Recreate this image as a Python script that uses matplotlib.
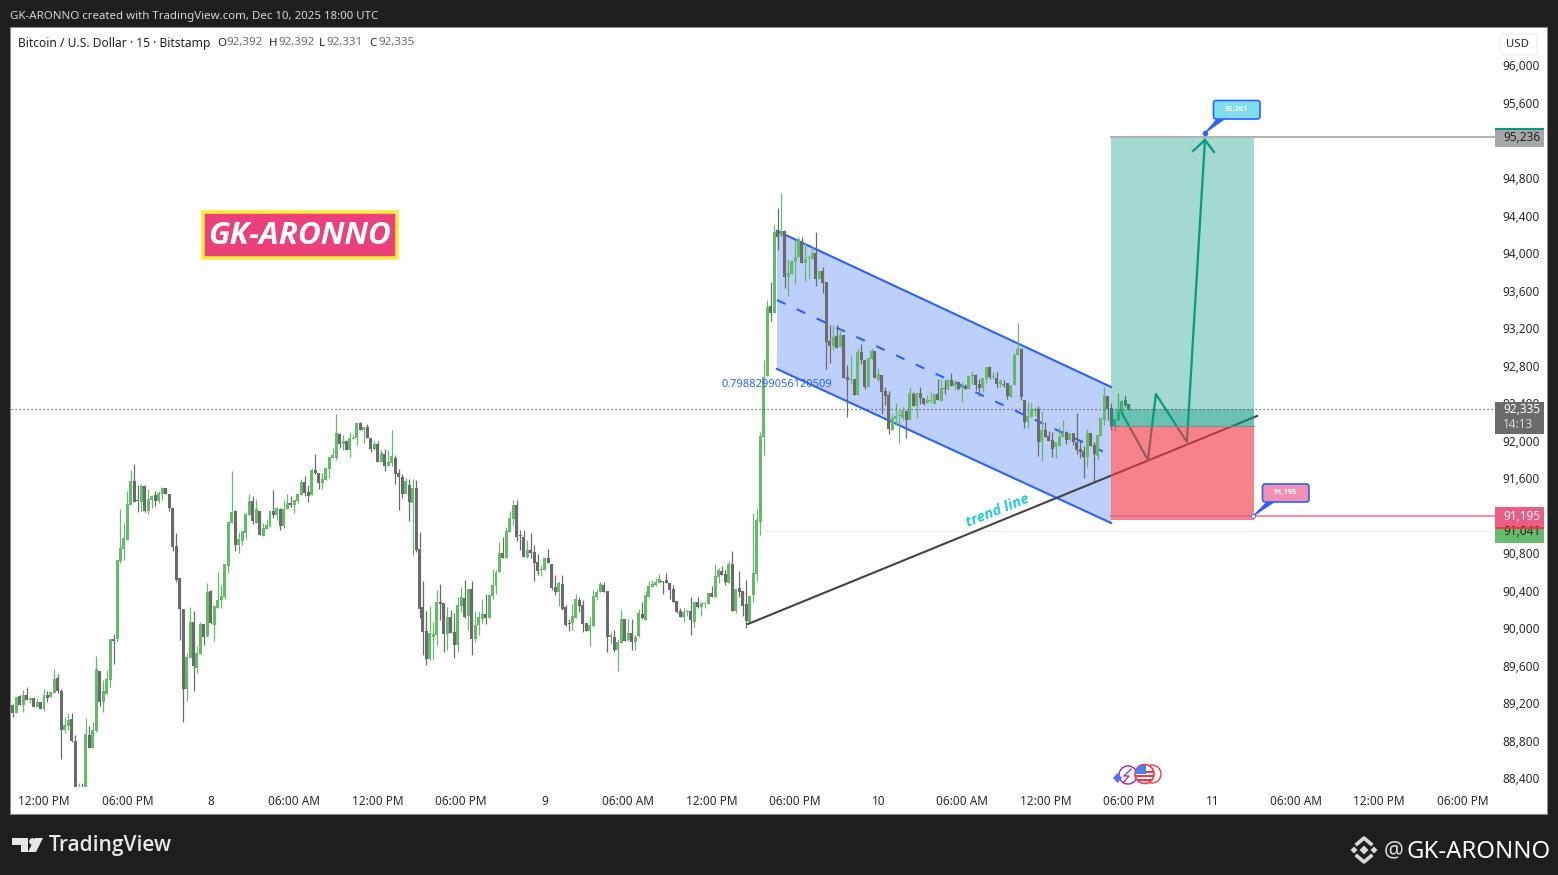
import numpy as np
import matplotlib
matplotlib.use('Agg')
import matplotlib.pyplot as plt
from matplotlib.patches import Rectangle, Circle, Polygon, FancyBboxPatch

plt.rcParams['font.family'] = ['Noto Sans', 'DejaVu Sans']

# 15 minute bars, index 0 = Dec 7 12:00 PM
bar_index = np.arange(-9, 313)

opens = [
    89184,89102,89280,89184,89291,89241,89255,89166,89212,89145,
    89291,89273,89315,89468,89333,88918,88960,89031,88800,88100,
    88180,88050,88864,88726,88907,89546,89216,89301,89450,89887,
    89887,90719,90847,90943,91316,91572,91369,91348,91518,91252,
    91369,91419,91358,91433,91493,91433,91284,90879,90534,90207,
    89355,89685,90069,89578,89728,90047,89919,90399,90037,90218,
    90303,90335,90666,91124,91252,90889,90932,91017,91209,91358,
    91124,91252,90985,91060,91092,91252,91209,91273,91092,91273,
    91337,91316,91358,91422,91561,91454,91422,91689,91657,91550,
    91582,91700,91817,91817,92073,91966,91998,91902,92019,92030,
    92190,92115,92147,92030,91913,91966,91774,91859,91732,91763,
    91817,91657,
    91614,91433,91529,91337,91497,90847,90228,89972,89674,89909,
    89930,90282,90271,89941,90122,89962,89823,90239,90324,90132,
    90420,89887,90036,90100,90154,90111,90346,90452,90601,90804,
    90751,91028,91166,91316,90996,90974,90761,90836,90815,90708,
    90623,90623,90751,90687,90441,90388,90473,90228,90058,90058,
    90111,90303,90250,90058,89972,90026,90335,90388,90463,90399,
    89909,89909,89770,89845,90100,89877,89951,89855,89919,90154,
    90090,90335,90441,90463,90484,90505,90516,90484,90420,90292,
    90186,90122,90175,90186,90068,90282,90228,90260,90260,90378,
    90335,90548,90612,90580,90484,90687,90186,90431,90399,90260,
    90068,90356,90580,91134,
    92044,92691,93437,93366,94229,94183,94236,93750,93778,93917,
    93956,94130,93899,93949,93938,93998,93725,93810,93693,93064,
    93011,93117,93000,93128,92680,92648,92659,92488,92947,92861,
    92574,92872,92957,92648,92701,92531,92488,92115,92232,92264,
    92243,92318,92222,92499,92371,92510,92456,92403,92424,92392,
    92499,92424,92563,92552,92648,92584,92627,92563,92584,92552,
    92691,92701,92606,92563,92659,92787,92680,92670,92606,92606,
    92613,92467,92595,92915,92979,92435,92201,92254,92318,92339,
    91987,92115,92051,92009,91934,91945,92041,92094,92009,92083,
    91987,91913,91891,91827,92083,91955,91838,92051,92222,92478,
    92350,92147,92222,92307,92435,92392,
]
highs = [
    89195,89273,89291,89344,89376,89273,89273,89255,89220,89355,
    89333,89319,89564,89511,89351,89060,89095,89095,88864,88349,
    88356,89042,88960,89006,89706,89546,89450,89557,89887,89937,
    90730,91273,91120,91465,91689,91753,91529,91540,91529,91486,
    91422,91465,91465,91508,91493,91433,91284,91014,90534,90207,
    89735,90229,90186,89813,90069,90047,90484,90410,90239,90602,
    90463,90687,91135,91678,91263,91028,91039,91231,91433,91412,
    91376,91252,91124,91163,91252,91476,91294,91284,91369,91433,
    91412,91369,91444,91593,91625,91529,91710,91859,91657,91657,
    91710,91827,91923,92286,92083,92062,92009,92094,92062,92190,
    92201,92147,92179,92030,91998,91998,91902,91913,91902,92115,
    91849,91700,
    91650,91600,91590,91590,91582,91028,90505,90186,90239,90068,
    90410,90473,90271,90228,90196,90164,90335,90441,90516,90420,
    90505,90186,90186,90314,90367,90356,90633,90623,90921,90974,
    91081,91252,91369,91369,91049,91049,90942,91017,90889,90793,
    90676,90761,90847,90687,90569,90505,90569,90250,90100,90260,
    90367,90335,90303,90058,90122,90410,90420,90495,90495,90399,
    89962,89983,89887,90196,90100,90100,90100,89930,90207,90282,
    90399,90505,90516,90537,90580,90505,90591,90484,90463,90292,
    90218,90218,90196,90335,90282,90335,90282,90282,90378,90452,
    90687,90644,90665,90623,90719,90825,90420,90612,90399,90516,
    90346,91230,91284,92097,
    92861,93501,93693,94300,94482,94638,94247,93938,93927,94140,
    94176,94176,94105,93981,94076,94226,93810,93849,93693,93234,
    93234,93234,93192,93128,92808,92915,92659,92989,93032,92861,
    92883,92989,92957,92776,92701,92574,92531,92286,92403,92328,
    92360,92328,92574,92520,92520,92574,92456,92488,92520,92499,
    92659,92659,92648,92659,92723,92648,92638,92627,92606,92691,
    92744,92712,92659,92670,92787,92797,92733,92733,92659,92648,
    92613,92595,92936,93256,92989,92435,92414,92399,92360,92371,
    92318,92201,92105,92094,91987,92147,92222,92105,92083,92083,
    92296,92009,91945,92126,92083,91987,92062,92254,92574,92478,
    92403,92232,92510,92435,92488,92392,
]
lows = [
    89060,89102,89184,89113,89241,89202,89166,89166,89145,89124,
    89220,89273,89315,89308,88612,88882,88918,88793,88050,87980,
    87950,87990,88726,88726,88896,89173,89109,89301,89379,89621,
    89856,90701,90730,90943,91316,91348,91241,91252,91241,91220,
    91284,91305,91341,91369,91433,91252,90825,90495,89877,89003,
    89227,89685,89333,89525,89728,89824,89909,90047,89866,90218,
    90218,90314,90591,91124,90825,90804,90889,90953,91209,91113,
    91124,90996,90985,91060,91085,91177,91156,91049,91071,91273,
    91298,91231,91337,91422,91412,91348,91422,91646,91486,91486,
    91582,91604,91817,91795,91923,91902,91902,91827,92019,91955,
    92115,91977,92030,91877,91902,91774,91774,91678,91732,91732,
    91540,91263,
    91390,91433,91145,90783,90815,90111,89717,89610,89663,89674,
    89823,90090,89749,89770,89951,89685,89749,90175,90111,89983,
    89717,89855,89930,90058,90047,90111,90314,90367,90601,90751,
    90751,91028,91102,90932,90836,90761,90751,90751,90505,90569,
    90559,90623,90697,90410,90356,90239,90196,90026,89972,89983,
    90111,90175,89962,89972,89813,90026,90303,90388,90388,89749,
    89834,89749,89546,89845,89866,89866,89770,89770,89909,90100,
    90090,90335,90441,90452,90484,90367,90484,90314,90282,90164,
    90122,90068,90132,89930,90015,90218,90132,90218,90260,90335,
    90335,90484,90569,90463,90484,90186,90164,90335,90132,90004,
    90068,90282,90505,90996,
    91849,92691,93277,93366,94034,94183,93632,93547,93778,93671,
    93956,93899,93703,93735,93938,93650,93725,93576,92765,92829,
    92968,92989,93000,92670,92254,92606,92488,92488,92819,92552,
    92574,92872,92670,92638,92286,92382,92073,92115,92169,91977,
    92222,92030,92222,92371,92243,92392,92382,92403,92403,92392,
    92435,92424,92499,92542,92584,92542,92542,92414,92552,92552,
    92606,92542,92478,92520,92616,92659,92659,92563,92574,92574,
    92446,92467,92595,92915,92435,92137,92137,92254,92264,91838,
    91785,92041,91998,91827,91817,91945,92041,91966,91998,91955,
    91859,91817,91604,91721,91945,91572,91795,92051,92169,92222,
    92115,92105,92211,92264,92360,92331,
]
closes = [
    89102,89266,89184,89291,89241,89259,89166,89212,89145,89291,
    89262,89319,89458,89337,88918,88967,89021,88804,88150,88180,
    88050,88871,88726,88918,89564,89216,89333,89458,89887,89866,
    90730,90854,90961,91326,91572,91348,91358,91518,91252,91380,
    91412,91358,91444,91493,91433,91284,90868,90516,90207,89355,
    89696,90069,89600,89735,90047,89909,90388,90054,90239,90303,
    90346,90687,91135,91241,90889,90950,91039,91220,91358,91145,
    91273,90996,91071,91103,91252,91209,91284,91092,91273,91337,
    91316,91369,91433,91561,91444,91412,91689,91657,91550,91593,
    91710,91827,91849,92083,91966,91998,91902,92030,92030,92190,
    92115,92147,92030,91913,91966,91774,91870,91732,91774,91838,
    91646,91614,
    91433,91575,91348,91497,90836,90207,89962,89674,89951,89941,
    90282,90260,89941,90122,89951,89823,90250,90335,90122,90420,
    89887,90036,90122,90154,90111,90356,90463,90601,90804,90751,
    91038,91177,91316,90974,90985,90761,90836,90804,90697,90612,
    90633,90751,90697,90431,90388,90484,90207,90036,90047,90132,
    90314,90239,90047,89972,90036,90346,90388,90473,90388,89909,
    89930,89770,89855,90100,89866,89951,89855,89909,90164,90111,
    90356,90452,90473,90495,90527,90495,90484,90410,90282,90175,
    90122,90175,90186,90090,90282,90228,90271,90271,90378,90335,
    90559,90623,90569,90495,90687,90186,90420,90388,90239,90079,
    90346,90591,91156,92051,
    92684,93430,93366,94229,94176,94236,93750,93785,93917,93956,
    94148,93899,93938,93959,93998,93725,93810,93682,93053,93011,
    93107,92989,93128,92670,92648,92659,92488,92947,92861,92574,
    92883,92957,92670,92712,92520,92478,92126,92243,92264,92275,
    92328,92222,92506,92371,92510,92456,92392,92435,92435,92499,
    92435,92563,92552,92648,92584,92627,92552,92584,92552,92691,
    92701,92595,92563,92670,92787,92680,92691,92606,92638,92595,
    92478,92595,92915,92979,92467,92201,92264,92328,92339,91987,
    92115,92041,91998,91913,91987,92041,92083,92009,92083,91987,
    91902,91881,91827,92083,91945,91859,92062,92240,92488,92339,
    92147,92232,92307,92424,92382,92335,
]

price_ticks = [p for p in range(88400, 96400, 400) if p not in (91000, 91200, 95200)]
time_ticks = list(range(0, 409, 24))
time_labels = ['12:00 PM', '06:00 PM', '8', '06:00 AM', '12:00 PM', '06:00 PM', '9',
               '06:00 AM', '12:00 PM', '06:00 PM', '10', '06:00 AM', '12:00 PM',
               '06:00 PM', '11', '06:00 AM', '12:00 PM', '06:00 PM']

# drawings, as (bar, price)
channel_top = [(210.8, 94236), (306.9, 92573)]
channel_bottom = [(210.8, 92765), (306.9, 91123)]
channel_mid = [(210.8, 93500), (305.5, 91870)]
trend_line = [(202.5, 90047), (348.9, 92264)]
zigzag_t = [310, 317.5, 319.8, 328.7, 333.9]
zigzag_p = [92296, 91795, 92498, 91987, 95206]
arrow_head_t = [330.5, 333.9, 336.5]
arrow_head_p = [95089, 95206, 95078]

pos_start, pos_end = 306.9, 348.0
entry_price = 92157
stop_price = 91155
target_price = 95245
last_price = 92335
target_line = 95236
stop_line = 91195
low_line = 91041

GREEN = '#66BB6A'
GRAY = '#6B6B6B'
BLUE = '#2962FF'
DARK = '#1E1E1E'
TICK_FS = 8.5

fig = plt.figure(figsize=(15.58, 8.75), dpi=100, facecolor=DARK)

# page furniture in pixel coordinates
page = fig.add_axes([0, 0, 1, 1])
page.set_xlim(0, 1558)
page.set_ylim(875, 0)
page.axis('off')
page.add_patch(Rectangle((10.5, 27), 1536.5, 787, fc='white', ec='#8A8A8A', lw=0.8))

# main pane: x 11..1497, y 27..787
ax = fig.add_axes([11 / 1558, 1 - 787 / 875, 1486 / 1558, 760 / 875])
ax.patch.set_alpha(0)
ax.set_xlim(-9.49, 417.9)
ax.set_ylim(88309, 96410)
for s in ax.spines.values():
    s.set_visible(False)

# channel
chan_x = [channel_top[0][0], channel_top[1][0], channel_bottom[1][0], channel_bottom[0][0]]
chan_y = [channel_top[0][1], channel_top[1][1], channel_bottom[1][1], channel_bottom[0][1]]
ax.add_patch(Polygon(list(zip(chan_x, chan_y)), fc='#BDCFFB', ec='none', zorder=1))
ax.plot(*zip(*channel_top), color=BLUE, lw=1.5, zorder=1.5)
ax.plot(*zip(*channel_bottom), color=BLUE, lw=1.5, zorder=1.5)
ax.plot(*zip(*channel_mid), color=BLUE, lw=1.5, dashes=(4.5, 6), zorder=1.5)

# candles
opens = np.array(opens)
closes = np.array(closes)
colors = [GREEN if c >= o else GRAY for o, c in zip(opens, closes)]
ax.vlines(bar_index, lows, highs, colors=colors, lw=0.9, zorder=2)
ax.bar(bar_index, closes - opens, bottom=opens, width=0.86, color=colors, lw=0, zorder=2.1)

# trend line and projected path
ax.plot(*zip(*trend_line), color='#434343', lw=1.5, zorder=3)
ax.plot(zigzag_t, zigzag_p, color='#089981', lw=1.6, zorder=3.1)
ax.plot(arrow_head_t, arrow_head_p, color='#089981', lw=1.6, zorder=3.1)

# long position box
ax.add_patch(Rectangle((pos_start, entry_price), pos_end - pos_start, target_price - entry_price,
                       fc='#089981', alpha=0.37, lw=0, zorder=4))
ax.add_patch(Rectangle((pos_start, entry_price), pos_end - pos_start, last_price - entry_price,
                       fc='#089981', alpha=0.37, lw=0, zorder=4))
ax.add_patch(Rectangle((pos_start, stop_price), pos_end - pos_start, entry_price - stop_price,
                       fc='#F23645', alpha=0.62, lw=0, zorder=4))
ax.plot([pos_start, pos_end], [entry_price, entry_price], color='#8A8A8A', lw=0.8, zorder=4.1)

# levels
ax.axhline(last_price, color='#5A5A5A', lw=0.9, ls=(0, (1, 2.2)), zorder=5)
ax.plot([206, 417.9], [low_line, low_line], color='#EFEFEF', lw=0.8, zorder=0.5)
ax.plot([pos_start, 417.9], [target_line, target_line], color='#B2B2B2', lw=1.5, zorder=5)
ax.plot([pos_start, 417.9], [stop_line, stop_line], color='#F48FB1', lw=1.5, zorder=5)
ax.plot([pos_start, pos_end], [stop_line, stop_line], color='#EC6A8F', lw=1.5, zorder=5.1)

ax.text(210.8, 92600, '0.7988299056120509', color=BLUE, fontsize=8.0, ha='center', va='center', zorder=6)
ax.text(274.4, 91251, 'trend line', color='#26C6DA', fontsize=10.5, fontweight='bold', style='italic',
        family='Open Sans', rotation=22, rotation_mode='anchor', ha='center', va='center', zorder=6)

# axes ticks
ax.yaxis.tick_right()
ax.set_yticks(price_ticks)
ax.set_yticklabels([f'{p:,}' for p in price_ticks])
ax.set_xticks(time_ticks)
ax.set_xticklabels(time_labels)
ax.tick_params(axis='y', length=0, pad=4.2, labelsize=TICK_FS, labelcolor='#2A2A2A')
ax.tick_params(axis='x', length=0, pad=5.9, labelsize=TICK_FS, labelcolor='#2A2A2A')
for lab in ax.get_xticklabels():
    if lab.get_text() in ('8', '9'):
        lab.set_fontweight('bold')

# price tags on the scale
def price_tag(y0, y1, fc, text, tc, y_text=None, weight='normal'):
    tr = ax.get_yaxis_transform()
    ax.add_patch(Rectangle((0.9985, y0), 0.033, y1 - y0, transform=tr, fc=fc, lw=0, clip_on=False, zorder=7))
    ax.text(1.004, y_text if y_text is not None else (y0 + y1) / 2, text, transform=tr, color=tc,
            fontsize=TICK_FS, fontweight=weight, va='center', ha='left', clip_on=False, zorder=8)

price_tag(95135, 95330, '#A6A6A6', '95,236', '#222222')
ax.add_patch(Rectangle((0.9985, 95315), 0.033, 22, transform=ax.get_yaxis_transform(), fc='#089981', lw=0,
                       clip_on=False, zorder=8))
price_tag(92072, 92413, GRAY, f'{last_price:,}', 'white', y_text=92335, weight='semibold')
ax.text(1.004, 92178, '14:13', transform=ax.get_yaxis_transform(), color='#D8D8D8', fontsize=TICK_FS,
        va='center', clip_on=False, zorder=8)
price_tag(90905, 91060, GREEN, '91,041', '#222222', y_text=91035)
price_tag(91060, 91295, '#EC5C85', '91,195', 'white', y_text=91195, weight='semibold')
ax.add_patch(Rectangle((0.9985, 91060), 0.033, 22, transform=ax.get_yaxis_transform(), fc='#F23645', lw=0,
                       clip_on=False, zorder=8))

# callout pointers
ax.add_patch(Polygon([(333.9, 95281), (337.7, 95441), (340, 95441)], fc=BLUE, ec=BLUE, lw=0.7, zorder=9))
ax.add_patch(Polygon([(347.7, 91195), (351.7, 91345), (353.7, 91345)], fc=BLUE, ec=BLUE, lw=0.7, zorder=9))
ax.plot([333.9], [95281], 'o', ms=3, color=BLUE, zorder=11)
ax.plot([347.7], [91195], 'o', ms=3, mfc='white', mec=BLUE, mew=0.6, zorder=11)

# overlay for the text and icons that sit outside the data
top = fig.add_axes([0, 0, 1, 1])
top.patch.set_alpha(0)
top.set_xlim(0, 1558)
top.set_ylim(875, 0)
top.axis('off')

# callout boxes
for bx, by, bw, bh, fc, txt in [(1213.5, 100.5, 46.5, 18.5, '#80DEEA', '95,281'),
                                (1262.5, 484, 46.5, 18, '#F48FB1', '91,195')]:
    top.add_patch(FancyBboxPatch((bx, by), bw, bh, boxstyle='round,pad=0,rounding_size=2.5', fc=fc, ec=BLUE, lw=1.2))
    top.text(bx + bw / 2, by + bh / 2 - 0.5, txt, color='white', fontsize=5.3, fontweight='bold', family='Open Sans',
             ha='center', va='center')

top.text(10, 16, 'GK-ARONNO created with TradingView.com, Dec 10, 2025 18:00 UTC', color='#D6D6D6',
         fontsize=8.27, va='center')
top.text(18, 43, 'Bitcoin / U.S. Dollar · 15 · Bitstamp', color='#222222', fontsize=8.7, va='center')
for lx, vx, lab, val in [(217, 226, 'O', '92,392'), (269, 278, 'H', '92,392'),
                         (319, 326, 'L', '92,331'), (369, 378, 'C', '92,335')]:
    top.text(lx, 43, lab, color='#222222', fontsize=8.3, va='center')
    top.text(vx, 43, val, color='#6A6A6A', fontsize=8.3, va='center')

top.add_patch(FancyBboxPatch((1500, 34), 37, 21, boxstyle='round,pad=0,rounding_size=3', fc='white',
                             ec='#EDEDED', lw=0.8))
top.text(1518, 44.5, 'USD', color='#222222', fontsize=8.2, ha='center', va='center')

# logo box
top.add_patch(Rectangle((203, 212), 194.5, 45.5, fc='#EC407A', ec='#FFEB3B', lw=2.6))
top.text(299.5, 236, 'GK-ARONNO', color='white', fontsize=22.6, fontweight='bold', style='italic',
         family='Open Sans', ha='center', va='center')

# event icons
top.add_patch(Circle((1128, 775), 9, fc='none', ec='#9C27B0', lw=1))
top.plot([1131, 1124, 1129, 1123], [769, 776, 776, 783], color='#9C27B0', lw=0.9)
top.add_patch(Polygon([(1113, 778), (1117.5, 773), (1122, 778), (1117.5, 783)], fc='#5B6CFF', lw=0))
top.add_patch(Circle((1152, 774), 9, fc='white', ec='#F23645', lw=1))
flag = Circle((1144.5, 774), 9.5, fc='white', ec='#F23645', lw=1.2)
top.add_patch(flag)
for fy in (771, 775, 779):
    stripe = Rectangle((1135, fy), 20, 2, fc='#F23645', lw=0)
    top.add_patch(stripe)
    stripe.set_clip_path(flag)
canton = Rectangle((1135, 765), 11, 9, fc='#4A80E8', lw=0)
top.add_patch(canton)
canton.set_clip_path(flag)

# footer
top.add_patch(Polygon([(12, 838), (28, 838), (28, 852), (21, 852), (21, 845), (12, 845)], fc='#E8E8E8', lw=0))
top.add_patch(Circle((32.5, 841.5), 3.4, fc='#E8E8E8', lw=0))
top.add_patch(Polygon([(35, 838), (43, 838), (36, 852), (28, 852)], fc='#E8E8E8', lw=0))
top.text(48.5, 846, 'TradingView', color='#E8E8E8', fontsize=15, fontweight='semibold', family='Open Sans',
         va='center')
for cx, cy, r in [(1354, 850, 3.5), (1374, 850, 3.5), (1364, 850, 4.5)]:
    top.add_patch(Polygon([(cx - r, cy), (cx, cy - r), (cx + r, cy), (cx, cy + r)], fc='#D8D8D8', lw=0))
top.plot([1357, 1364, 1371], [844, 838, 844], color='#D8D8D8', lw=2.6)
top.plot([1357, 1364, 1371], [856, 862, 856], color='#D8D8D8', lw=2.6)
top.text(1384, 851, '@', color='#D8D8D8', fontsize=16, va='center')
top.text(1407, 852, 'GK-ARONNO', color='white', fontsize=17.2, va='center')

fig.savefig('out.png', dpi=100, facecolor=DARK)
